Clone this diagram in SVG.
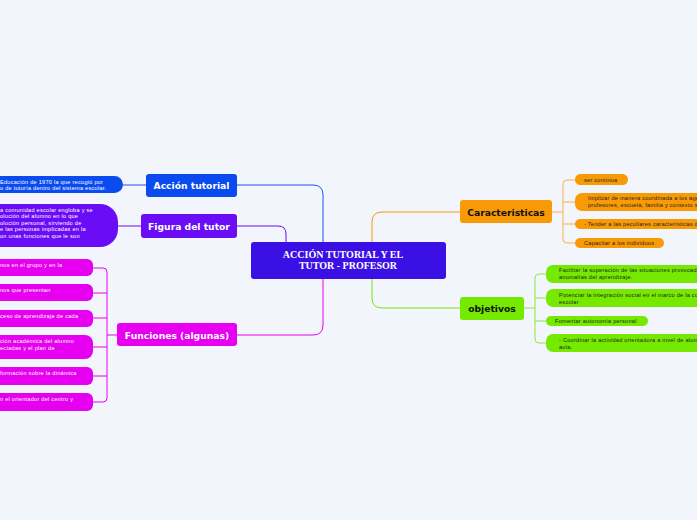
<svg xmlns="http://www.w3.org/2000/svg" width="697" height="520" viewBox="0 0 697 520">
<style>
.t{font-family:"Liberation Sans",Arial,sans-serif;font-size:5.6px;letter-spacing:0.25px}
.w{fill:#fff}.k{fill:#222}
.m{font-family:"DejaVu Sans",sans-serif;font-weight:bold;font-size:9.2px;fill:#fff;text-anchor:middle}
.c{fill:none;stroke-width:1}
</style>
<rect width="697" height="520" fill="#f2f5fc"/>
<g id="connectors">
<path class="c" stroke="#1a55f0" d="M237,185 H313 Q323,185 323,195 V242"/>
<path class="c" stroke="#6a0cf5" d="M237,226 H278 Q286,226 286,234 V242"/>
<path class="c" stroke="#e600ef" d="M237,335 H313 Q323,335 323,325 V279"/>
<path class="c" stroke="#f79a05" d="M372,242 V222 Q372,212 382,212 H460"/>
<path class="c" stroke="#75e900" d="M372,279 V298 Q372,308 382,308 H460"/>
<path class="c" stroke="#1a55f0" d="M123,185 H146"/>
<path class="c" stroke="#6a0cf5" d="M118,226 H141"/>
<path class="c" stroke="#e600ef" d="M117,335 H107 M93,268 H103 Q107,268 107,272 V398 Q107,402 103,402 H93 M93,293 H107 M93,318 H107 M93,347 H107 M93,376 H107"/>
<path class="c" stroke="#f7b24a" d="M552,212 H563 M575,180 H567 Q563,180 563,184 V239 Q563,243 567,243 H575 M575,202 H563 M575,224 H563"/>
<path class="c" stroke="#8ee83a" d="M524,308 H535 M546,274 H539 Q535,274 535,278 V339 Q535,343 539,343 H546 M546,298 H535 M546,321 H535"/>
</g>
<g id="central"><rect x="251" y="242" width="195" height="37" rx="3" fill="#3a10e5"/>
<text x="343" y="258" text-anchor="middle" font-family="Liberation Serif,serif" font-weight="bold" font-size="10" fill="#fff">ACCIÓN TUTORIAL Y EL</text>
<text x="348" y="269" text-anchor="middle" font-family="Liberation Serif,serif" font-weight="bold" font-size="10" fill="#fff">TUTOR - PROFESOR</text></g>
<g id="accion"><rect x="146" y="174" width="91" height="23" rx="3" fill="#0a4bf0"/><text class="m" x="191.5" y="189">Acción tutorial</text></g>
<g id="accion-1"><rect x="-40" y="176" width="163" height="17" rx="8.5" fill="#0a4bf0"/>
<text class="t w" x="0" y="183.5">Educación de 1970 la que recogió por</text><text class="t w" x="0" y="190">o de tutoría dentro del sistema escolar.</text></g>
<g id="figura"><rect x="141" y="214" width="96" height="24" rx="3" fill="#6a0cf5"/><text class="m" x="189" y="229.5">Figura del tutor</text></g>
<g id="figura-1"><rect x="-40" y="204" width="158" height="43" rx="18" fill="#6a0cf5"/>
<text class="t w" x="0" y="211.5">a comunidad escolar engloba y se</text><text class="t w" x="0" y="218">olución del alumno en lo que</text><text class="t w" x="0" y="224.5">olución personal, sirviendo de</text><text class="t w" x="0" y="231">e las personas implicadas en la</text><text class="t w" x="0" y="237.5">on unas funciones que le son</text></g>
<g id="funciones"><rect x="117" y="323" width="120" height="23" rx="3" fill="#e600ef"/><text class="m" x="177" y="338.5">Funciones (algunas)</text></g>
<g id="f1"><rect x="-40" y="259" width="133" height="17" rx="6" fill="#e600ef"/><text class="t w" x="0" y="267">nos en el grupo y en la</text></g>
<g id="f2"><rect x="-40" y="284" width="133" height="17" rx="6" fill="#e600ef"/><text class="t w" x="0" y="292">nos que presentan</text></g>
<g id="f3"><rect x="-40" y="310" width="133" height="17" rx="6" fill="#e600ef"/><text class="t w" x="0" y="318">ceso de aprendizaje de cada</text></g>
<g id="f4"><rect x="-40" y="335" width="133" height="24" rx="8" fill="#e600ef"/><text class="t w" x="0" y="343">ción académica del alumno</text><text class="t w" x="0" y="349.5">ectadas y el plan de</text></g>
<g id="f5"><rect x="-40" y="367" width="133" height="18" rx="6" fill="#e600ef"/><text class="t w" x="0" y="375">formación sobre la dinámica</text></g>
<g id="f6"><rect x="-40" y="393" width="133" height="18" rx="6" fill="#e600ef"/><text class="t w" x="0" y="401">n el orientador del centro y</text></g>
<g id="caract"><rect x="460" y="200" width="92" height="23" rx="3" fill="#f79a05"/><text class="m" x="506" y="215.5" style="fill:#111">Caracteristicas</text></g>
<g id="c1"><rect x="575" y="174" width="53" height="11" rx="5.5" fill="#f79a05"/><text class="t k" x="584" y="181.5">ser continua</text></g>
<g id="c2"><rect x="575" y="193" width="140" height="18" rx="7" fill="#f79a05"/><text class="t k" x="588" y="200">Implicar de manera coordinada a los agentes:</text><text class="t k" x="588" y="207">profesores, escuela, familia y contexto social</text></g>
<g id="c3"><rect x="575" y="219" width="140" height="10" rx="5" fill="#f79a05"/><text class="t k" x="584" y="226">- Tender a las peculiares características de cada</text></g>
<g id="c4"><rect x="575" y="238" width="89" height="10" rx="5" fill="#f79a05"/><text class="t k" x="584" y="245">Capacitar a los individuos</text></g>
<g id="objetivos"><rect x="460" y="297" width="64" height="23" rx="3" fill="#75e900"/><text class="m" x="492" y="312" style="fill:#111">objetivos</text></g>
<g id="o1"><rect x="546" y="265" width="170" height="18" rx="7" fill="#75e900"/><text class="t k" x="559" y="272">Facilitar la superación de las situaciones provocadas</text><text class="t k" x="559" y="279">anomalías del aprendizaje.</text></g>
<g id="o2"><rect x="546" y="289" width="170" height="18" rx="7" fill="#75e900"/><text class="t k" x="559" y="296.5">Potenciar la integración social en el marco de la comunidad</text><text class="t k" x="559" y="303.5">escolar</text></g>
<g id="o3"><rect x="546" y="316" width="102" height="10" rx="5" fill="#75e900"/><text class="t k" x="555" y="323">Fomentar autonomía personal</text></g>
<g id="o4"><rect x="546" y="334" width="170" height="18" rx="7" fill="#75e900"/><text class="t k" x="559" y="341.5">- Coordinar la actividad orientadora a nivel de alumno y</text><text class="t k" x="559" y="348.5">aula.</text></g>
</svg>
